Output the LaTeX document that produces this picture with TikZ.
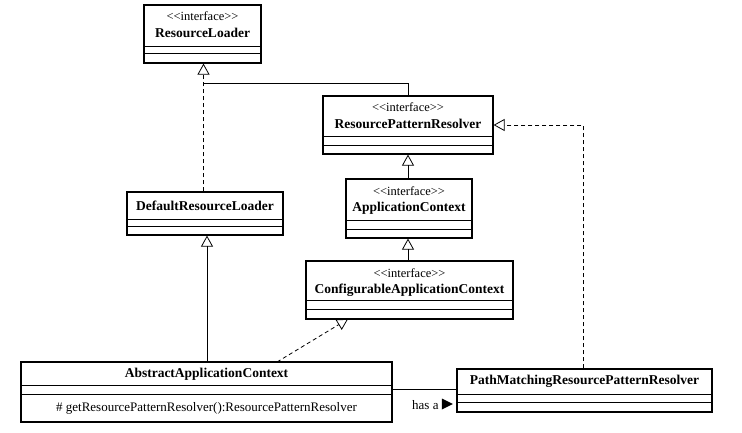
\documentclass[tikz,border=0pt]{standalone}
\usepackage{fontspec}
\setmainfont{Liberation Serif}
\usetikzlibrary{arrows.meta,fit}
\newcommand\ubox[7]{%
  \node[box, fit={(#2,#3) (#4,#5)}] (#1) {};
  \draw[line width=1pt] (#2,#6) -- (#4,#6);
  \draw[line width=1pt] (#2,#7) -- (#4,#7);}
\newcommand\stereo{<{}<interface>{}>}
\begin{document}
\begin{tikzpicture}[x=1pt,y=-1pt,
  box/.style={draw, line width=1.2pt, inner sep=0pt},
  st/.style={font=\fontsize{12.5}{13}\selectfont, inner sep=0pt},
  nm/.style={font=\fontsize{13.5}{14}\selectfont\bfseries, inner sep=0pt},
  inh/.style={-{Triangle[open,length=11pt,width=12pt]}, line width=0.8pt},
  real/.style={inh, dash pattern=on 4pt off 3pt}]
\useasboundingbox (0,0) rectangle (742,432);
\ubox{rl}{144}{5}{261}{63}{46}{53}
\node[st] (rlS) at (202.5,16) {\stereo};
\node[nm] (rlN) at (202.5,33) {ResourceLoader};
\ubox{rpr}{323}{96}{493}{154}{136}{145}
\node[st] (rprS) at (408,107) {\stereo};
\node[nm] (rprN) at (408,124) {ResourcePatternResolver};
\ubox{ac}{346}{179}{472}{238}{220}{229}
\node[st] (acS) at (409,191) {\stereo};
\node[nm] (acN) at (409,208) {ApplicationContext};
\ubox{drl}{127}{192}{283}{235}{219}{226}
\node[nm] (drlN) at (205,206) {DefaultResourceLoader};
\ubox{cac}{306}{261}{513}{319}{300}{309}
\node[st] (cacS) at (409.5,273) {\stereo};
\node[nm] (cacN) at (409.5,290) {ConfigurableApplicationContext};
\ubox{aac}{21}{362}{392}{422}{385}{394}
\node[nm] (aacN) at (206.5,374) {AbstractApplicationContext};
\node[font=\fontsize{13}{14}\selectfont, inner sep=0pt] (aacM) at (206.5,408) {\# getResourcePatternResolver():ResourcePatternResolver};
\ubox{pm}{457}{369}{712}{412}{394}{402}
\node[nm] (pmN) at (584.5,381) {PathMatchingResourcePatternResolver};
% connectors
\coordinate (j1) at (408,83);
\coordinate (j2) at (203.5,83);
\draw[line width=0.8pt] (rpr.north -| j1) -- (j1) -- (j2);
\draw[real] (drl.north -| j2) -- (rl.south -| j2);
\draw[inh] (ac.north -| j1) -- (rpr.south -| j1);
\draw[inh] (cac.north -| j1) -- (ac.south -| j1);
\coordinate (a1) at (207,0);
\draw[inh] (aac.north -| a1) -- (drl.south -| a1);
\coordinate (a2) at (277,362);
\coordinate (a3) at (348,319);
\draw[real] (a2) -- (a3);
\coordinate (p1) at (583,125);
\draw[real] (pm.north -| p1) -- (p1) -- (rpr.east |- p1);
\coordinate (h) at (0,389);
\draw[line width=0.8pt] (aac.east |- h) -- (pm.west |- h);
\node[font=\fontsize{13}{14}\selectfont, inner sep=0pt, anchor=east] (has) at (453,404) {has a \raisebox{-0.5pt}{\tikz\fill (0,0)--(0,11pt)--(11pt,5.5pt)--cycle;}};
\end{tikzpicture}
\end{document}
